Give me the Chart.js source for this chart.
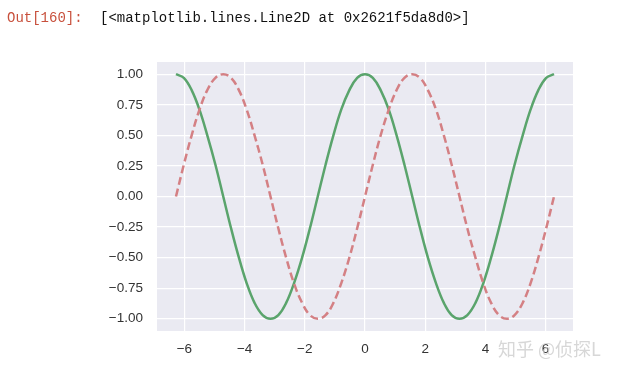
<!DOCTYPE html>
<html>
<head>
<meta charset="utf-8">
<script src="https://cdn.jsdelivr.net/npm/chart.js@4.4.0/dist/chart.umd.min.js"></script>
<style>
  html,body{margin:0;padding:0;background:#fff;width:623px;height:375px;overflow:hidden;}
  #wrap{position:absolute;left:0;top:0;width:623px;height:375px;}
  #out{position:absolute;left:7px;top:10px;font-family:"Liberation Mono","DejaVu Sans Mono",monospace;font-size:14px;white-space:pre;}
  #out .p{color:#c8503c;}
  #out .v{color:#111;position:absolute;left:93px;top:0;}
  #wm{position:absolute;left:498px;top:335px;font-family:"Noto Sans CJK SC",sans-serif;font-size:18px;color:rgba(205,205,205,0.8);white-space:nowrap;}
</style>
</head>
<body>
<div id="wrap"><canvas id="c" width="623" height="375"></canvas></div>
<div id="out"><span class="p">Out[160]:</span><span class="v">[&lt;matplotlib.lines.Line2D at 0x2621f5da8d0&gt;]</span></div>
<div id="wm">知乎 @侦探L</div>
<script>
// x 取样点（-2π 到 2π）
const xs=[-6.28,-6.02,-5.76,-5.50,-5.24,-4.97,-4.71,-4.45,-4.19,-3.93,-3.67,-3.40,-3.14,
  -2.88,-2.62,-2.36,-2.09,-1.83,-1.57,-1.31,-1.05,-0.79,-0.52,-0.26,0,
  0.26,0.52,0.79,1.05,1.31,1.57,1.83,2.09,2.36,2.62,2.88,3.14,
  3.40,3.67,3.93,4.19,4.45,4.71,4.97,5.24,5.50,5.76,6.02,6.28];
// 绿色实线
const greenVals=[1,0.97,0.87,0.71,0.5,0.26,0,-0.26,-0.5,-0.71,-0.87,-0.97,-1,
  -0.97,-0.87,-0.71,-0.5,-0.26,0,0.26,0.5,0.71,0.87,0.97,1,
  0.97,0.87,0.71,0.5,0.26,0,-0.26,-0.5,-0.71,-0.87,-0.97,-1,
  -0.97,-0.87,-0.71,-0.5,-0.26,0,0.26,0.5,0.71,0.87,0.97,1];
// 红色虚线
const redVals=[0,0.26,0.5,0.71,0.87,0.97,1,0.97,0.87,0.71,0.5,0.26,0,
  -0.26,-0.5,-0.71,-0.87,-0.97,-1,-0.97,-0.87,-0.71,-0.5,-0.26,0,
  0.26,0.5,0.71,0.87,0.97,1,0.97,0.87,0.71,0.5,0.26,0,
  -0.26,-0.5,-0.71,-0.87,-0.97,-1,-0.97,-0.87,-0.71,-0.5,-0.26,0];
const xTicks=[-6,-4,-2,0,2,4,6];
const yTicks=[-1,-0.75,-0.5,-0.25,0,0.25,0.5,0.75,1];

const pts=v=>xs.map((x,i)=>({x,y:v[i]}));

// 灰色背景
const bgPlugin={
  id:'bg',
  beforeDraw(chart){
    const a=chart.chartArea, ctx=chart.ctx;
    ctx.save();
    ctx.fillStyle='#eaeaf2';
    ctx.fillRect(a.left,a.top,a.right-a.left,a.bottom-a.top);
    ctx.restore();
  }
};

const fmt=v=>{const s=Math.abs(v).toFixed(2);return v<0?'\u2212'+s:s;};
const tickFont={family:'Liberation Sans, Arial',size:13.5};

new Chart(document.getElementById('c'),{
  type:'line',
  data:{datasets:[
    {data:pts(redVals),borderColor:'#d48084',borderWidth:2.5,borderDash:[8,4],pointRadius:0,tension:0.4,fill:false},
    {data:pts(greenVals),borderColor:'#5aa46c',borderWidth:2.5,pointRadius:0,tension:0.4,fill:false}
  ]},
  options:{
    responsive:false,animation:false,
    layout:{padding:{top:62,right:50,left:0,bottom:0}},
    plugins:{legend:{display:false},tooltip:{enabled:false}},
    scales:{
      x:{type:'linear',min:-6.911,max:6.911,
        afterBuildTicks:s=>{s.ticks=xTicks.map(v=>({value:v}));},
        afterFit:s=>{s.height=44;},
        grid:{color:'#ffffff',lineWidth:1.2,drawTicks:false},
        border:{display:false},
        ticks:{padding:10,color:'#333',font:tickFont,
          maxRotation:0,callback:v=>v<0?'\u2212'+Math.abs(v):''+v}},
      y:{min:-1.1,max:1.1,
        afterBuildTicks:s=>{s.ticks=yTicks.map(v=>({value:v}));},
        afterFit:s=>{s.width=157;},
        grid:{color:'#ffffff',lineWidth:1.2,drawTicks:false},
        border:{display:false},
        ticks:{padding:14,color:'#333',font:tickFont,callback:fmt}}
    }
  },
  plugins:[bgPlugin]
});
</script>
</body>
</html>
